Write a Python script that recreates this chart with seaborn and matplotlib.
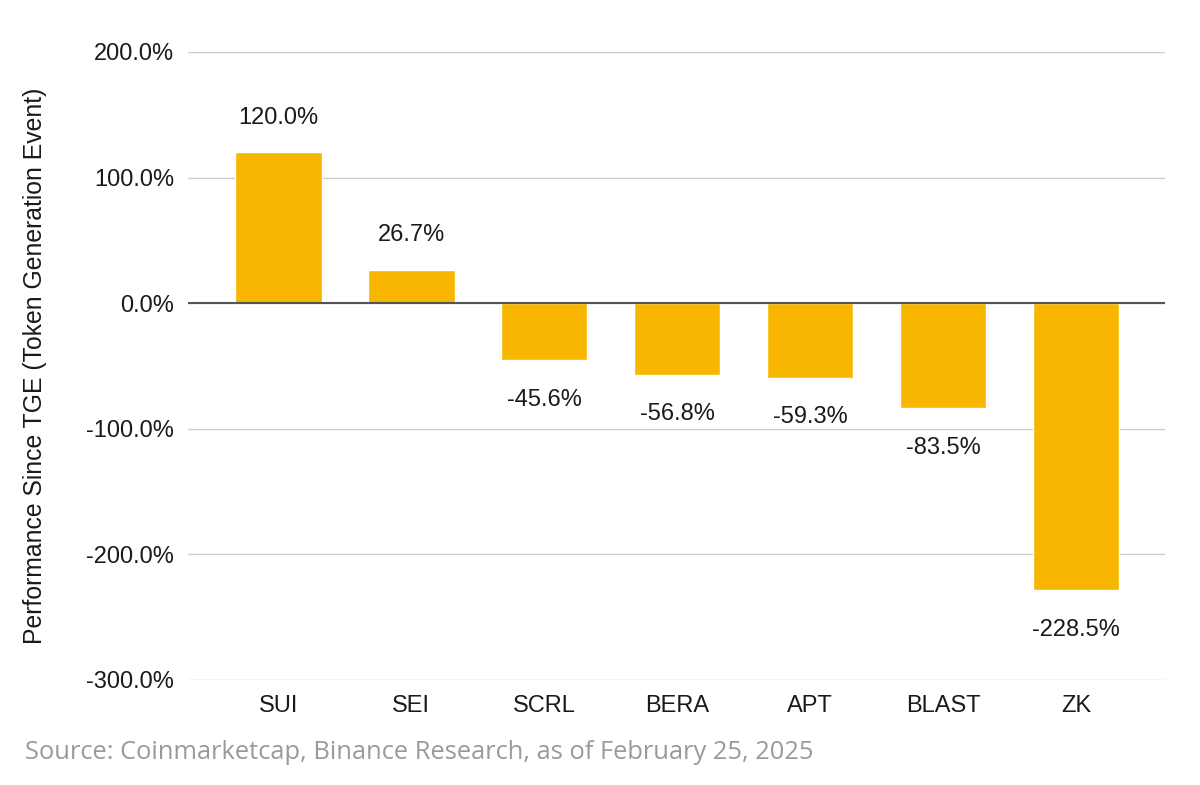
import matplotlib
matplotlib.use("Agg")
import matplotlib.pyplot as plt
import seaborn as sns
import pandas as pd

tokens = ["SUI", "SEI", "SCRL", "BERA", "APT", "BLAST", "ZK"]
performance = [120.0, 26.7, -45.6, -56.8, -59.3, -83.5, -228.5]
y_ticks = [200, 100, 0, -100, -200, -300]

df = pd.DataFrame({"token": tokens, "perf": performance})

sns.set_theme(style="white")
plt.rcParams["font.family"] = ["Liberation Sans", "DejaVu Sans"]

fig = plt.figure(figsize=(12, 7.85), dpi=100)
ax = fig.add_axes([0.1567, 0.1338, 0.8141, 0.80])

sns.barplot(data=df, x="token", y="perf", color="#F8B600", width=0.65,
            saturation=1, ax=ax, zorder=3)

ax.set_ylim(-300, 200)
ax.set_xlim(-0.68, 6.67)
ax.set_yticks(y_ticks)
ax.set_yticklabels([f"{t:.1f}%" for t in y_ticks])
ax.yaxis.grid(True, color="#cccccc", linewidth=1, zorder=0)
ax.axhline(0, color="#555555", linewidth=1.5, zorder=4)

for s in ax.spines.values():
    s.set_visible(False)
ax.tick_params(axis="y", length=0, pad=10, labelsize=17, labelcolor="#1a1a1a")
ax.tick_params(axis="x", length=0, pad=11, labelsize=17, labelcolor="#1a1a1a")

for i, v in enumerate(performance):
    if v >= 0:
        ax.annotate(f"{v:.1f}%", (i, v), xytext=(0, 17), textcoords="offset points",
                    ha="center", va="bottom", fontsize=17, color="#1a1a1a")
    else:
        ax.annotate(f"{v:.1f}%", (i, v), xytext=(0, -20.5), textcoords="offset points",
                    ha="center", va="top", fontsize=17, color="#1a1a1a")

ax.set_xlabel("")
ax.set_ylabel("Performance Since TGE (Token Generation Event)", fontsize=17.8,
              color="#1a1a1a", labelpad=28)

fig.text(0.021, 0.041, "Source: Coinmarketcap, Binance Research, as of February 25, 2025",
         fontsize=18.4, color="#9a9a9a", family=["Open Sans", "DejaVu Sans"], va="center")

fig.savefig("out.png", dpi=100)
